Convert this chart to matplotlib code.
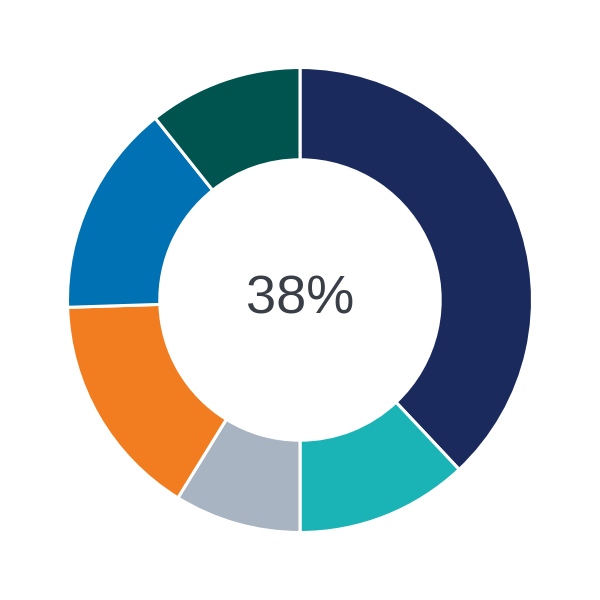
import matplotlib
matplotlib.use('Agg')
import matplotlib.pyplot as plt

# segment shares, clockwise from 12 o'clock
labels = ['Navy', 'Teal', 'Gray', 'Orange', 'Blue', 'Green']
values = [38, 12, 8.8, 15.7, 14.8, 10.7]
colors = ['#1b2a5c', '#1ab3b6', '#a9b4c3', '#f27d20', '#0072b4', '#00544f']
center_text = '38%'

fig = plt.figure(figsize=(6, 6), dpi=100)
ax = fig.add_axes([0, 0, 1, 1])

ax.pie(values, colors=colors, startangle=90, counterclock=False,
       radius=1.0,
       wedgeprops=dict(width=0.397, edgecolor='white', linewidth=2.2))

ax.text(0, 0.0, center_text, ha='center', va='center',
        fontsize=39, color='#3a3f47', family='Liberation Sans')

lim = 300 / 232.5
ax.set_xlim(-lim, lim)
ax.set_ylim(-lim, lim)
ax.set_aspect('equal')
ax.axis('off')

fig.savefig('out.png', dpi=100, facecolor='white')
